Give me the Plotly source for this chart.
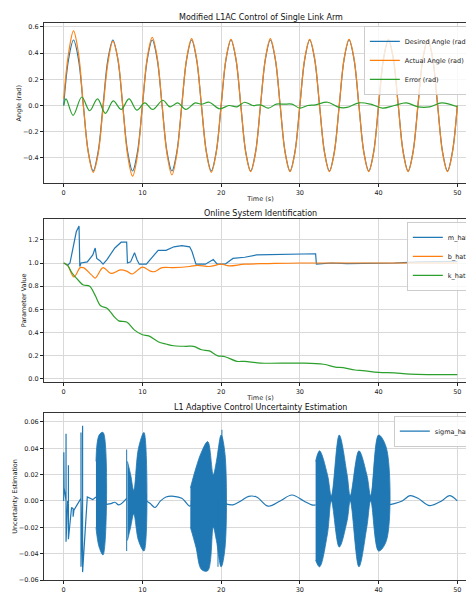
import plotly.graph_objects as go
from plotly.subplots import make_subplots

t_ang = [i * 0.625 for i in range(81)]
desired = [0, .354, .5, .354, 0, -.354, -.5, -.354,
           0, .354, .5, .354, 0, -.354, -.5, -.354,
           0, .354, .5, .354, 0, -.354, -.5, -.354,
           0, .354, .5, .354, 0, -.354, -.5, -.354,
           0, .354, .5, .354, 0, -.354, -.5, -.354,
           0, .354, .5, .354, 0, -.354, -.5, -.354,
           0, .354, .5, .354, 0, -.354, -.5, -.354,
           0, .354, .5, .354, 0, -.354, -.5, -.354,
           0, .354, .5, .354, 0, -.354, -.5, -.354,
           0, .354, .5, .354, 0, -.354, -.5, -.354, 0]
actual = [0.05, .40, .57, .40, 0, -.36, -.51, -.37,
          -0.02, .33, .49, .36, 0, -.38, -.54, -.38,
          0, .37, .52, .37, 0, -.37, -.53, -.37,
          0, .36, .51, .36, 0, -.36, -.51, -.36,
          0, .36, .505, .36, 0, -.36, -.505, -.36,
          0, .36, .51, .36, 0, -.36, -.505, -.36,
          0, .36, .505, .36, 0, -.36, -.505, -.36,
          0, .36, .505, .36, 0, -.36, -.505, -.36,
          0, .36, .505, .36, 0, -.36, -.505, -.36,
          0, .36, .505, .36, 0, -.36, -.505, -.36, 0]
t_err = [0, .3, 1.2, 2.3, 3.3, 4.3, 5.3, 6.3, 7.3, 8.3, 9.3, 10.3, 11.3, 12.6, 13.5, 14.5, 15.5,
         16.7, 17.5, 18.5, 19.8, 21, 22, 23, 24, 25, 26, 27, 28, 29, 30, 31, 32, 33.5, 35, 36,
         37.5, 39, 40.5, 42, 43.5, 45, 46.5, 48, 50]
err = [0, .05, -.075, .065, -.04, .05, -.06, .035, -.03, .05, -.035, .02, -.03, .04, -.01, .02, -.03,
       .02, .01, .025, -.025, 0, -.01, .025, 0, .005, -.02, .01, .01, .01, -.02, 0, .005, .025, -.015,
       -.015, .02, .01, -.02, 0, .02, -.01, -.01, .02, -.01]

t_m = [0, .5, .8, 1.2, 1.6, 1.95, 2.05, 2.2, 3, 3.7, 4.0, 4.2, 4.6, 5, 5.5, 6.5, 7.3, 8.0, 8.1, 8.5, 9,
       9.3, 9.6, 10.5, 11.3, 12, 13, 14, 15, 16, 16.3, 16.8, 18, 19, 19.5, 20.5, 21.5, 23, 24.5, 28,
       32, 32.1, 34, 36, 40, 42, 45, 50]
m_hat = [1.0, .98, 1.0, 1.15, 1.27, 1.32, .97, 1.0, 1.01, 1.07, 1.13, 1.04, 1.02, .99, 1.03, 1.13,
         1.18, 1.18, 1.0, 1.01, 1.09, 1.03, .99, .99, 1.05, 1.11, 1.11, 1.14, 1.15, 1.14, 1.1, .99,
         .99, 1.03, .99, .99, 1.04, 1.05, 1.07, 1.075, 1.08, .99, 1.0, .995, .995, 1.0, 1.01, 1.015]
t_b = [0, .5, 1.3, 2.1, 2.5, 3.5, 4, 5, 6, 7.2, 8, 8.7, 10, 11, 11.5, 12.5, 14, 16, 17, 18.5, 20, 21,
       23, 26, 30, 50]
b_hat = [1.0, .98, .88, .96, .96, .90, .87, .96, .91, .94, .93, .905, .965, .93, .925, .96, .96, .97,
         .98, .97, .99, .975, .99, .995, 1.0, 1.0]
t_k = [0, .5, 1, 2, 2.5, 3.3, 4, 4.7, 5.5, 6.5, 7, 8, 9, 10, 10.8, 12, 13, 14, 15.5, 16.5, 17.5, 18.5,
       19.5, 20.5, 22, 23, 25, 30, 33, 34.5, 35.5, 37, 38, 40, 42, 44, 50]
k_hat = [1.0, .98, .92, .84, .81, .80, .72, .63, .61, .53, .50, .49, .42, .38, .37, .32, .30, .285,
         .28, .28, .25, .24, .20, .19, .15, .15, .135, .135, .125, .10, .095, .075, .07, .055, .05,
         .04, .035]

t_sig = [0, 0.02, 0.05, 0.3, 0.3, 0.3, 0.5, 0.6, 0.6, 0.6, 1.0, 1.2, 1.2, 1.3, 1.7, 2.2, 2.2, 2.2,
         2.4, 2.4, 2.4, 3, 3.7, 4.1]
sig = [0.0, 0.037, 0.01, 0.0, 0.051, -0.031, 0.0, -0.002, 0.027, -0.029, -0.005, -0.006, -0.012,
       -0.007, -0.003, 0.002, 0.052, -0.050, 0.002, 0.057, -0.054, 0.003, 0.001, 0.003]
t_base2 = [5, 6, 6.5, 7, 8]
base2 = [-0.003, -0.002, -0.001, -0.003, 0.002]
t_base3 = [10.2, 10.5, 11, 11.6, 12.3, 13, 14, 15, 16, 16.1]
base3 = [0.001, 0, -0.002, -0.005, 0, 0.003, 0.0035, 0.002, -0.004, -0.003]
t_base4 = [20.5, 21.5, 22.5, 23.5, 24.5, 26, 27.5, 29, 30.5, 31.5, 32]
base4 = [-0.002, -0.003, 0.0, 0.0035, 0.003, -0.004, 0.0, 0.0045, 0.0, -0.003, -0.003]
t_base5 = [41, 42, 43, 44, 45, 46.5, 48, 49, 50]
base5 = [-0.003, -0.002, 0.0, 0.004, 0.002, -0.0035, 0.0, 0.004, 0.0]
bursts = [
    ([4.1, 4.5, 5.0], [.03, .05, .052], [-.02, -.035, -.041]),
    ([8.1, 8.5, 8.9, 9.5, 10.2], [.03, .02, .008, .04, .052], [-.03, -.02, -.01, -.03, -.038]),
    ([16.1, 16.8, 17.5, 18.3, 19.0, 19.4, 20.0, 20.5], [.01, .025, .037, .045, .02, .03, .05, .035],
     [-.02, -.035, -.052, -.053, -.02, -.03, -.05, -.035]),
    ([32, 32.5, 33.5, 34, 35, 36, 36.4, 37.5, 38.5, 39, 40, 41],
     [.03, .038, .02, .004, .05, .02, .004, .038, .02, .004, .05, .04],
     [-.045, -.05, -.025, 0, -.035, -.015, 0, -.05, -.02, 0, -.038, -.03]),
]
spikes_t = [8.0, 8.0, 16.2, 19.6, 20.1]
spikes_v = [.039, -.038, -.02, -.05, .054]

C1, C2, C3 = "#1f77b4", "#ff7f0e", "#2ca02c"
fig = make_subplots(rows=3, cols=1)
def ln(c, shape="spline", w=1.2):
    return dict(color=c, width=w, shape=shape)
fig.add_trace(go.Scatter(x=t_ang, y=desired, mode="lines", name="Desired Angle (rad)", line=ln(C1), legend="legend"), 1, 1)
fig.add_trace(go.Scatter(x=t_ang, y=actual, mode="lines", name="Actual Angle (rad)", line=ln(C2), legend="legend"), 1, 1)
fig.add_trace(go.Scatter(x=t_err, y=err, mode="lines", name="Error (rad)", line=ln(C3), legend="legend"), 1, 1)
fig.add_trace(go.Scatter(x=t_m, y=m_hat, mode="lines", name="m_hat", line=ln(C1, "linear"), legend="legend2"), 2, 1)
fig.add_trace(go.Scatter(x=t_b, y=b_hat, mode="lines", name="b_hat", line=ln(C2), legend="legend2"), 2, 1)
fig.add_trace(go.Scatter(x=t_k, y=k_hat, mode="lines", name="k_hat", line=ln(C3), legend="legend2"), 2, 1)
fig.add_trace(go.Scatter(x=t_sig, y=sig, mode="lines", name="sigma_hat", line=ln(C1, "linear"), legend="legend3"), 3, 1)
for tb, vb in [(t_base2, base2), (t_base3, base3), (t_base4, base4), (t_base5, base5)]:
    fig.add_trace(go.Scatter(x=tb, y=vb, mode="lines", showlegend=False, line=ln(C1)), 3, 1)
for tb, up, lo in bursts:
    fig.add_trace(go.Scatter(x=tb + tb[::-1], y=up + lo[::-1], fill="toself", fillcolor=C1, showlegend=False,
                             line=dict(color=C1, width=0.8, shape="spline"), mode="lines"), 3, 1)
for x, v in zip(spikes_t, spikes_v):
    fig.add_trace(go.Scatter(x=[x, x], y=[0, v], showlegend=False, mode="lines", line=dict(color=C1, width=1)), 3, 1)

doms = [[0.712, 1.0], [0.356, 0.648], [0.0, 0.30]]
yr = [[-0.595, 0.63], [-0.026, 1.38], [-0.06, 0.0668]]
ytit = ["Angle (rad)", "Parameter Value", "Uncertainty Estimation"]
ytv = [[-0.4, -0.2, 0, 0.2, 0.4, 0.6], [0, 0.2, 0.4, 0.6, 0.8, 1.0, 1.2],
       [-0.06, -0.04, -0.02, 0, 0.02, 0.04, 0.06]]
ytt = [["−0.4", "−0.2", "0.0", "0.2", "0.4", "0.6"], ["0.0", "0.2", "0.4", "0.6", "0.8", "1.0", "1.2"],
       ["−0.06", "−0.04", "−0.02", "0.00", "0.02", "0.04", "0.06"]]
titles = ["Modified L1AC Control of Single Link Arm", "Online System Identification",
          "L1 Adaptive Control Uncertainty Estimation"]
ax = dict(showline=True, linecolor="#333", mirror=True, showgrid=True, gridcolor="#d9d9d9",
          zeroline=False, ticks="outside", ticklen=3, tickfont=dict(size=6.5), color="#222", automargin=False)
for i in range(3):
    fig.update_xaxes(**ax, range=[-2.5, 52.5], tickvals=[0, 10, 20, 30, 40, 50],
                     title=dict(text="Time (s)", font=dict(size=6.5), standoff=0), row=i + 1, col=1)
    fig.update_yaxes(**ax, range=yr[i], domain=doms[i], tickvals=ytv[i], ticktext=ytt[i],
                     title=dict(text=ytit[i], font=dict(size=6.5), standoff=0), row=i + 1, col=1)
    fig.add_annotation(text=titles[i], xref="paper", yref="paper", x=0.5, y=doms[i][1], yanchor="bottom",
                       showarrow=False, font=dict(size=8, color="#111"), yshift=-1)
leg = dict(xanchor="right", yanchor="top", x=0.995, bgcolor="rgba(255,255,255,0.8)",
           bordercolor="#ccc", borderwidth=1, font=dict(size=6.5), tracegroupgap=0, itemwidth=30)
fig.update_layout(
    width=474, height=592, margin=dict(l=36, r=5, t=15, b=20), plot_bgcolor="white", paper_bgcolor="white",
    font=dict(family="DejaVu Sans", color="#222"),
    legend=dict(**leg, y=0.995),
    legend2=dict(**leg, y=0.643),
    legend3=dict(**leg, y=0.295),
)
fig.write_html("out.html")
